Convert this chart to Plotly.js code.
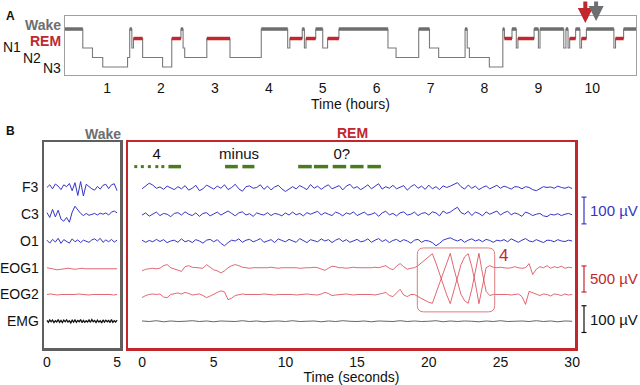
<!DOCTYPE html>
<html><head><meta charset="utf-8">
<script src="https://cdn.plot.ly/plotly-3.0.1.min.js"></script>
<style>html,body{margin:0;padding:0;background:#fff}#chart{width:640px;height:385px}</style>
</head><body><div id="chart"></div>
<script>
// ---------------- Panel A: hypnogram data ----------------
const hypnoTimes = [0.20,0.55,0.73,0.92,1.38,1.42,1.46,1.49,1.66,2.03,2.20,2.37,2.41,2.44,2.85,3.28,3.86,4.35,4.39,4.62,4.66,4.69,4.87,5.00,5.09,5.30,6.21,6.36,6.78,6.98,7.15,7.64,7.68,7.72,8.09,8.34,8.37,8.51,8.59,8.62,8.92,9.00,9.03,9.47,9.51,9.55,9.58,9.69,9.77,9.80,9.89,10.40,10.43,10.58];
const hypnoStages = ['Wake','N1','N2','N3','N2','Wake','N1','REM','N2','N3','REM','Wake','N1','N2','REM','N2','Wake','N1','REM','Wake','N1','REM','Wake','N1','REM','Wake','N1','N2','Wake','N1','N2','Wake','N1','N2','N3','Wake','REM','Wake','N1','REM','Wake','N1','Wake','N1','Wake','N1','REM','Wake','N1','REM','Wake','N1','REM','Wake'];
const hypnoEnd = 10.85;
const hourTicks = [1,2,3,4,5,6,7,8,9,10];
const arrowHours = [9.87, 10.07];

// ---------------- Panel B: traces (µV) ----------------
const wakeSpan = 5, remSpan = 30;
const secTicksWake = [0,5];
const secTicksRem = [0,5,10,15,20,25,30];
const channels = ['F3','C3','O1','EOG1','EOG2','EMG'];

const F3_wake = [0,10,-5,13,5,-8,10,3,15,-12,18,-30,22,-32,12,3,-5,-10,4,-6,8,12,-4,10,14,-12];
const C3_wake = [6,-12,18,-10,15,-18,-26,-12,-30,8,30,16,3,-5,3,-4,0,3,-3,4,0,5,-3,8,12,5];
const O1_wake = [3,-8,6,-4,10,-9,5,0,-8,8,-3,4,-6,3,0,-5,4,8,0,10,-5,4,-3,6,-4,3];
const EOG1_wake = [0,-10,-20,-40,-30,-20,-10,-20,-30,-20,-10,-20,-20,-10,-10,-20,-20,-10,-10,-20,-20];
const EOG2_wake = [0,10,0,-10,0,0,-10,0,0,10,0,0,-10,0,0,0,10,0,0,-10,0];
const EMG_wake = [3,-4,5,-2,4,-5,2,-3,6,-4,3,-5,4,-2,5,-3,2,-6,4,-3,5,-4,3,-2,6,-5,3,-4,2,-3,5,-4,6,-2,3,-5,4,-3,2,-6,5,-3,4,-2,3,-5,6,-4,2,-3,4];

const F3_rem = [-5,4,16,9,-3,2,-7,5,0,-8, 3,-5,7,-10,-3,8,-12,-5,9,3, -6,5,-3,10,-8,0,12,-5,-14,3, 6,-3,0,10,-7,5,-9,2,8,-5,
  -15,-6,3,-5,7,0,-8,11,-3,5, -7,3,10,-5,0,7,-9,5,12,-3, 3,-8,0,10,-5,6,14,-6,3,-3, 8,-5,0,7,-10,3,11,-3,5,-7,
  9,-5,3,-8,6,0,5,12,18,3, -6,9,-3,5,-8,0,6,-5,3,8, -3,5,0,-6,3,2,-5,3,0,-8, -12,-5,3,0,2,-3,5,0,-3,2, -4];
const C3_rem = [-3,5,-7,2,8,-5,3,0,-9,3, 6,-3,9,0,-5,5,-8,3,6,-6, 0,8,-3,5,12,3,-6,5,9,-3, 2,-8,5,0,-3,6,-5,3,0,-6,
  5,-3,8,-2,3,-6,6,0,5,11, -3,6,0,-5,8,3,-6,5,0,9, -5,3,8,-3,0,6,-8,5,11,-2, 3,-6,5,9,-3,0,8,-5,3,6,
  -3,9,5,-6,12,3,8,18,26,6, 0,11,-5,8,3,-6,9,0,5,12, -3,6,11,-2,5,0,-8,8,3,-5, 0,3,-6,-9,0,-3,2,-5,0,3, -2];
const O1_rem = [3,-5,2,-3,6,-2,5,-6,0,3, -5,8,-3,2,-6,5,0,-8,3,6, -3,5,-9,-18,-6,3,0,8,-5,3, 6,-3,2,9,-5,0,5,-6,8,2,
  -3,6,0,-5,9,3,-6,5,2,-3, 8,0,5,-6,3,9,-2,5,-5,2, 6,-3,0,8,-5,3,9,-2,5,-6, 2,6,-3,5,0,-8,3,6,-5,2,
  0,-6,-18,-9,3,8,12,5,0,6, -5,3,8,0,5,-3,6,2,-5,3, 0,5,-3,8,2,-5,3,9,0,-3, 5,0,-6,3,2,-3,5,0,-2,3, 0];
const EOG1_rem = [-60,-30,-20,-10,-20,-10,40,60,0,-20, -50,-70,20,40,10,0,0,-10,60,10, -40,-60,-100,-60,0,40,60,40,10,0, -10,0,0,-10,0,0,10,0,-10,0,
  0,0,10,0,-10,0,0,0,10,0, -20,-50,-10,30,20,0,0,-10,0,10, 0,0,-10,0,0,10,0,20,40,-10, -40,30,80,20,-30,-10,0,40,100,160,
  220,270,90,-120,-310,-520,-690,-430,-190,60, 210,270,20,-300,-690,-350,0,40,10,0, 10,0,-10,0,20,0,-10,0,80,-130, -30,20,0,40,-10,20,0,30,-10,10, 0];
const EOG2_rem = [-60,-20,0,10,0,10,-50,-60,0,20, 30,10,40,20,-10,0,10,-20,-60,-30, 10,40,70,50,-100,-70,-20,0,10,0, 0,-10,0,0,10,0,0,-10,0,0,
  0,10,0,-10,0,0,10,0,0,-10, 10,40,20,-20,-10,0,0,10,0,-10, 0,0,10,0,0,-10,0,20,40,-20, -40,40,100,-10,-40,0,0,-40,-80,-120,
  -150,-170,30,200,400,600,790,500,250,0, -120,-170,100,450,790,400,60,-20,0,0, 0,10,0,-10,0,10,-40,-190,60,30, 0,-20,10,0,-30,10,0,-20,10,-10, 0];
const EMG_rem = [1,-1,2,-2,1,-1,0,2,-1,1,-2,1,0,-1,2,-1,1,-2,0,1,-1,2,-1,0,1,-2,1,-1,2,0,-1,1,-2,1,0,-1,2,-1,1,-1,0,2,-2,1,-1,1,0,-2,1,-1,2,-1,0,1,-1,2,-1,1,-2,1,0];

// stimulus timing (s)
const cueDots = [-0.44, 0.02, 0.51, 1.03, 1.45];
const cueDashStart = [1.84, 5.79, 7.00, 10.89, 11.99, 13.30, 14.52, 15.72];
const cueDashEnd   = [2.72, 6.68, 7.84, 11.84, 12.98, 14.24, 15.45, 16.66];
const cueWords = ['4','minus','0?'];
const cueWordTimes = [1.02, 6.77, 13.93];
const eyeBox = [19.2, 24.6];
const eyeBoxLabel = '4';

// ---------------- rendering ----------------
const FONT = 'Liberation Sans, Arial, sans-serif';
const RED = '#c1272d', GRAY = '#6d6e70', BLUE = '#3535c8', EOGC = '#d9404f', GREEN = '#4a7b1e';
const level = {Wake:4, REM:3, N1:2, N2:1, N3:0};
const W = 640, H = 385;
const px = v => v / W, py = v => 1 - v / H;

const traces = [];
const hx = hypnoTimes.concat([hypnoEnd]);
const hy = hypnoStages.map(s => level[s]); hy.push(hy[hy.length-1]);
traces.push({x: hx, y: hy, xaxis:'x', yaxis:'y', mode:'lines', line:{shape:'hv', color:'#7a7a7a', width:1.1}, hoverinfo:'skip'});
function segs(stage){
  const xs=[], ys=[];
  hypnoStages.forEach((s,i)=>{ if(s===stage){ const t1 = i+1<hypnoTimes.length?hypnoTimes[i+1]:hypnoEnd; xs.push(hypnoTimes[i], t1, null); ys.push(level[s], level[s], null);} });
  return {xs, ys};
}
const wk = segs('Wake'), rm = segs('REM');
traces.push({x: wk.xs, y: wk.ys, xaxis:'x', yaxis:'y', mode:'lines', line:{color:GRAY, width:3.5}, hoverinfo:'skip'});
traces.push({x: rm.xs, y: rm.ys, xaxis:'x', yaxis:'y', mode:'lines', line:{color:RED, width:3.5}, hoverinfo:'skip'});

const grid = (n, span) => Array.from({length:n}, (_, i) => i * span / (n - 1));
const baseY = {F3:6, C3:5, O1:4, EOG1:3, EOG2:2, EMG:1};
const eegScale = 1/100, eogScale = 1/514, emgScale = 1/100;
function addTrace(vals, span, ch, scale, color, width, xa, ya){
  traces.push({x: grid(vals.length, span), y: vals.map(v => baseY[ch] + v*scale), xaxis:xa, yaxis:ya, mode:'lines', line:{color, width}, hoverinfo:'skip'});
}
addTrace(F3_wake, wakeSpan, 'F3', eegScale, BLUE, 1, 'x2','y2');
addTrace(C3_wake, wakeSpan, 'C3', eegScale, BLUE, 1, 'x2','y2');
addTrace(O1_wake, wakeSpan, 'O1', eegScale, BLUE, 1, 'x2','y2');
addTrace(EOG1_wake, wakeSpan, 'EOG1', eogScale, EOGC, 0.8, 'x2','y2');
addTrace(EOG2_wake, wakeSpan, 'EOG2', eogScale, EOGC, 0.8, 'x2','y2');
addTrace(EMG_wake, wakeSpan, 'EMG', emgScale, '#111', 1.3, 'x2','y2');
addTrace(F3_rem, remSpan, 'F3', eegScale, BLUE, 1, 'x3','y3');
addTrace(C3_rem, remSpan, 'C3', eegScale, BLUE, 1, 'x3','y3');
addTrace(O1_rem, remSpan, 'O1', eegScale, BLUE, 1, 'x3','y3');
addTrace(EOG1_rem, remSpan, 'EOG1', eogScale, EOGC, 0.8, 'x3','y3');
addTrace(EOG2_rem, remSpan, 'EOG2', eogScale, EOGC, 0.8, 'x3','y3');
addTrace(EMG_rem, remSpan, 'EMG', emgScale, '#555', 0.9, 'x3','y3');

const cueY = 6.78;
traces.push({x: cueDots, y: cueDots.map(()=>cueY), xaxis:'x3', yaxis:'y3', mode:'markers', marker:{symbol:'square', size:3, color:GREEN}, hoverinfo:'skip'});
const dx=[], dy=[];
cueDashStart.forEach((s,i)=>{ dx.push(s, cueDashEnd[i], null); dy.push(cueY, cueY, null); });
traces.push({x: dx, y: dy, xaxis:'x3', yaxis:'y3', mode:'lines', line:{color:GREEN, width:3.5}, hoverinfo:'skip'});
traces.push({x: cueWordTimes, y: cueWordTimes.map(()=>7.22), text: cueWords, mode:'text', textfont:{family:FONT, size:15, color:'#111'}, xaxis:'x3', yaxis:'y3', hoverinfo:'skip'});

const yB = [py(348), py(142)], yRange = [0, 7.7];
const yBp = u => yB[0] + (u - yRange[0]) / (yRange[1]-yRange[0]) * (yB[1]-yB[0]);

const tickFont = {family:FONT, size:14, color:'#111'};
const layout = {
  width: W, height: H, margin:{l:0,r:0,t:0,b:0}, showlegend:false,
  paper_bgcolor:'#fff', plot_bgcolor:'rgba(0,0,0,0)',
  font:{family:FONT, color:'#111'},
  xaxis:{domain:[px(65), px(636)], range:[0.22, 10.81], tickvals:hourTicks, ticks:'', showgrid:false, zeroline:false,
    showline:true, mirror:true, linecolor:'#a0a0a0', linewidth:1, tickfont:tickFont,
    title:{text:'Time (hours)', font:{family:FONT, size:14, color:'#111'}, standoff:2}, anchor:'y'},
  yaxis:{domain:[py(75), py(16)], range:[-0.84, 5.37], showticklabels:false, ticks:'', showgrid:false, zeroline:false,
    showline:true, mirror:true, linecolor:'#a0a0a0', linewidth:1, anchor:'x'},
  xaxis2:{domain:[px(44), px(120)], range:[-0.21, 5.21], tickvals:secTicksWake, ticks:'', showgrid:false, zeroline:false,
    showline:true, mirror:true, linecolor:'#5f5f5f', linewidth:2.5, tickfont:tickFont, anchor:'y2'},
  yaxis2:{domain:yB, range:yRange, showticklabels:false, ticks:'', showgrid:false, zeroline:false,
    showline:true, mirror:true, linecolor:'#5f5f5f', linewidth:2.5, anchor:'x2'},
  xaxis3:{domain:[px(128), px(575)], range:[-0.98, 30.2], tickvals:secTicksRem, ticks:'', showgrid:false, zeroline:false,
    showline:true, mirror:true, linecolor:RED, linewidth:2.5, tickfont:tickFont, anchor:'y3',
    title:{text:'Time (seconds)', font:{family:FONT, size:14, color:'#111'}, standoff:2}},
  yaxis3:{domain:yB, range:yRange, showticklabels:false, ticks:'', showgrid:false, zeroline:false,
    showline:true, mirror:true, linecolor:RED, linewidth:2.5, anchor:'x3'},
  shapes:[], annotations:[]
};

(function(){
  const x0=eyeBox[0], x1=eyeBox[1], yb=1.35, yt=3.74, rx=0.45, ry=0.25;
  layout.shapes.push({type:'path', xref:'x3', yref:'y3', line:{color:'#e07a80', width:1},
    path:`M ${x0+rx},${yb} L ${x1-rx},${yb} Q ${x1},${yb} ${x1},${yb+ry} L ${x1},${yt-ry} Q ${x1},${yt} ${x1-rx},${yt} L ${x0+rx},${yt} Q ${x0},${yt} ${x0},${yt-ry} L ${x0},${yb+ry} Q ${x0},${yb} ${x0+rx},${yb} Z`});
  layout.annotations.push({xref:'x3', yref:'y3', x:x1+0.15, y:3.45, text:eyeBoxLabel, showarrow:false, xanchor:'left', font:{family:FONT, size:17, color:RED}});
})();

function scaleBar(center, uv, scale, color, label){
  const h = uv*scale, y0 = yBp(center - h/2), y1 = yBp(center + h/2);
  const xb = px(584);
  layout.shapes.push({type:'line', xref:'paper', yref:'paper', x0:xb, x1:xb, y0, y1, line:{color, width:1.2}});
  layout.shapes.push({type:'line', xref:'paper', yref:'paper', x0:px(581.5), x1:px(586.5), y0, y1:y0, line:{color, width:1.2}});
  layout.shapes.push({type:'line', xref:'paper', yref:'paper', x0:px(581.5), x1:px(586.5), y0:y1, y1, line:{color, width:1.2}});
  layout.annotations.push({xref:'paper', yref:'paper', x:px(588), y:(y0+y1)/2, text:label, showarrow:false, xanchor:'left', yanchor:'middle', font:{family:FONT, size:15, color}});
}
scaleBar(5.14, 100, eegScale, BLUE, '100 µV');
scaleBar(2.58, 500, eogScale, RED, '500 µV');
scaleBar(1.08, 100, emgScale, '#111', '100 µV');

channels.forEach(ch => layout.annotations.push({xref:'paper', yref:'y3', x:px(41), y:baseY[ch], text:ch, showarrow:false, xanchor:'right', yanchor:'middle', font:{family:FONT, size:14, color:'#111'}}));

layout.annotations.push({xref:'paper', yref:'paper', x:px(83), y:py(134), text:'<b>Wake</b>', showarrow:false, font:{family:FONT, size:14, color:GRAY}});
layout.annotations.push({xref:'paper', yref:'paper', x:px(352), y:py(133), text:'<b>REM</b>', showarrow:false, font:{family:FONT, size:14, color:RED}});
layout.annotations.push({xref:'paper', yref:'paper', x:px(4), y:py(7), text:'<b>A</b>', showarrow:false, xanchor:'left', font:{family:FONT, size:12, color:'#111'}});
layout.annotations.push({xref:'paper', yref:'paper', x:px(4), y:py(131), text:'<b>B</b>', showarrow:false, xanchor:'left', font:{family:FONT, size:12, color:'#111'}});

const stLab = [
  {t:'<b>Wake</b>', x:63, y:25, a:'right', c:GRAY},
  {t:'<b>REM</b>', x:63, y:41, a:'right', c:RED},
  {t:'N1', x:1, y:47, a:'left', c:'#111'},
  {t:'N2', x:21, y:58, a:'left', c:'#111'},
  {t:'N3', x:41, y:68, a:'left', c:'#111'}
];
stLab.forEach(s => layout.annotations.push({xref:'paper', yref:'paper', x:px(s.x), y:py(s.y), text:s.t, showarrow:false, xanchor:s.a, yanchor:'middle', font:{family:FONT, size:14, color:s.c}}));

[[arrowHours[0], RED, 23], [arrowHours[1], GRAY, 21]].forEach(a => layout.annotations.push({
  xref:'x', yref:'paper', x:a[0], y:py(a[2]), text:'', showarrow:true, arrowhead:2, arrowsize:0.75, arrowwidth:4, arrowcolor:a[1], ax:0, ay:-24
}));

Plotly.newPlot('chart', traces, layout, {staticPlot:true, displayModeBar:false});
</script></body></html>
